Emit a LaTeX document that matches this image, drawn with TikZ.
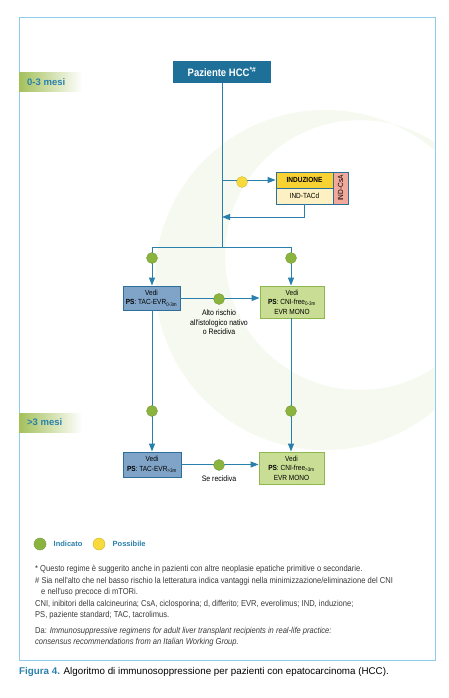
\documentclass[tikz,border=0pt]{standalone}
\usepackage{fontspec}
\setmainfont{Liberation Sans}
\newfontfamily\condfont[FakeStretch=0.88]{Liberation Sans}
\usetikzlibrary{arrows.meta, positioning, calc}
\definecolor{frameblue}{HTML}{8DCDEB}
\definecolor{linkblue}{HTML}{2A80AC}
\definecolor{hccblue}{HTML}{1E7099}
\definecolor{tacfill}{HTML}{80A4C7}
\definecolor{tacdraw}{HTML}{2C6F9B}
\definecolor{cnifill}{HTML}{C9DE94}
\definecolor{cnidraw}{HTML}{8DB94C}
\definecolor{dotgreen}{HTML}{8AB43E}
\definecolor{dotyellow}{HTML}{F8DA3C}
\definecolor{indfill}{HTML}{F8D232}
\definecolor{tacdfill}{HTML}{FDF0C2}
\definecolor{csafill}{HTML}{F0A99A}
\definecolor{bandgreen}{HTML}{A3C05A}
\definecolor{notegray}{HTML}{3A3A3A}
\definecolor{swoosh}{HTML}{F6F9EF}
\newcommand{\boxfont}{\condfont\fontsize{7.4}{9.5}\selectfont}
\tikzset{
  link/.style={draw=linkblue, line width=1pt},
  arrowlink/.style={link, -{Triangle[length=8pt,width=6pt]}},
  hccbox/.style={fill=hccblue, text=white, inner sep=0pt,
    minimum width=98pt, minimum height=22pt,
    font=\condfont\fontsize{10.8}{12}\selectfont\bfseries},
  tacbox/.style={draw=tacdraw, line width=0.9pt, fill=tacfill, align=center,
    inner sep=0pt, font=\boxfont},
  cnibox/.style={draw=cnidraw, line width=0.9pt, fill=cnifill, align=center,
    inner sep=0pt, font=\boxfont},
  indbox/.style={draw=tacdraw, line width=0.8pt, inner sep=0pt, font=\boxfont},
  okdot/.style={circle, fill=dotgreen, draw=dotgreen!80!black, line width=0.3pt,
    minimum size=11pt, inner sep=0pt},
  maydot/.style={circle, fill=dotyellow, draw=dotyellow!80!black, line width=0.3pt,
    minimum size=11pt, inner sep=0pt},
  bandlabel/.style={anchor=west, inner sep=0pt, text=linkblue,
    font=\fontsize{9.5}{10}\selectfont\bfseries},
  note/.style={anchor=north west, align=left, text=notegray,
    font=\condfont\fontsize{8.6}{11.5}\selectfont, inner sep=0pt}
}
\begin{document}
\begin{tikzpicture}[x=1pt, y=-1pt]
\def\xl{152}\def\xr{291}\def\xm{219}
\useasboundingbox (0,0) rectangle (448,698);
\fill[white] (0,0) rectangle (448,698);
% faint background swoosh
\begin{scope}
  \clip (19,18) rectangle (435,660);
  \fill[swoosh, even odd rule] (325,280) circle (170pt) (360,255) circle (135pt);
\end{scope}
\draw[frameblue, line width=1pt] (19,18) rectangle (435,660);
% period bands
\shade[left color=bandgreen, right color=white] (19,73) rectangle (82,92);
\node[bandlabel] (early) at (27,82.5) {0-3 mesi};
\shade[left color=bandgreen, right color=white] (19,413) rectangle (82,432);
\node[bandlabel] (late) at (27,422.5) {>3 mesi};
% boxes
\node[hccbox] (hcc) at (222,72) {Paziente HCC\textsuperscript{*\#}};
\node[indbox, fill=indfill, minimum width=57pt, minimum height=16pt] (ind) at (304.5,180)
  {\bfseries INDUZIONE};
\node[indbox, fill=tacdfill, minimum width=57pt, minimum height=16pt] (tacd) at (304.5,196)
  {IND-TACd};
\node[indbox, fill=csafill, minimum width=15pt, minimum height=32pt] (csa) at (340.5,188)
  {\rotatebox{90}{IND-CsA}};
\node[tacbox, minimum width=57pt, minimum height=24pt] (tac1) at (151.5,298)
  {Vedi\\\textbf{PS}: TAC-EVR\textsubscript{0-3m}};
\node[cnibox, minimum width=64pt, minimum height=32pt] (cni1) at (292,302)
  {Vedi\\\textbf{PS}: CNI-free\textsubscript{0-3m}\\EVR MONO};
\node[tacbox, minimum width=58pt, minimum height=25pt] (tac2) at (152,464.5)
  {Vedi\\\textbf{PS}: TAC-EVR\textsubscript{>3m}};
\node[cnibox, minimum width=65pt, minimum height=32pt] (cni2) at (291.5,468)
  {Vedi\\\textbf{PS}: CNI-free\textsubscript{>3m}\\EVR MONO};
% connectors
\coordinate (splitl) at (\xl,247);
\coordinate (splitr) at (\xr,247);
\coordinate (back) at (222,217);
\draw[link] (hcc.south) -- (hcc.south |- splitl);
\draw[link] (splitl) -- (splitr);
\draw[arrowlink] (hcc.south |- ind.west) -- (ind.west);
\draw[arrowlink] (tacd.south) |- (back);
\draw[arrowlink] (splitl) -- (splitl |- tac1.north);
\draw[arrowlink] (splitr) -- (splitr |- cni1.north);
\draw[arrowlink] (tac1.east) -- (tac1.east -| cni1.west);
\draw[arrowlink] (tac1.south -| splitl) -- (splitl |- tac2.north);
\draw[arrowlink] (cni1.south -| splitr) -- (splitr |- cni2.north);
\draw[arrowlink] (tac2.east) -- (tac2.east -| cni2.west);
% choice dots
\node[maydot] (d0) at (242,182) {};
\node[okdot] (d1) at (\xl,258) {};
\node[okdot] (d2) at (\xr,258) {};
\node[okdot] (d3) at (\xm,299) {};
\node[okdot] (d4) at (\xl,411) {};
\node[okdot] (d5) at (\xr,411) {};
\node[okdot] (d6) at (\xm,465) {};
\node[below=2pt of d3, align=center, font=\condfont\fontsize{7.9}{9.5}\selectfont] (risk)
  {Alto rischio\\all'istologico nativo\\o Recidiva};
\node[below=2pt of d6, font=\condfont\fontsize{7.9}{9.5}\selectfont] (relapse) {Se recidiva};
% legend
\node[okdot, minimum size=12pt] (kok) at (40,544) {};
\node[right=4pt of kok, text=linkblue, font=\fontsize{7.5}{9}\selectfont\bfseries] (tok) {Indicato};
\node[maydot, minimum size=12pt] (kmay) at (99,544) {};
\node[right=4pt of kmay, text=linkblue, font=\fontsize{7.5}{9}\selectfont\bfseries] (tmay) {Possibile};
% notes
\node[note] (notes) at (35,565)
  {* Questo regime è suggerito anche in pazienti con altre neoplasie epatiche primitive o secondarie.\\
   \# Sia nell'alto che nel basso rischio la letteratura indica vantaggi nella minimizzazione/eliminazione del CNI\\
   \hspace*{6pt}e nell'uso precoce di mTORi.\\
   CNI, inibitori della calcineurina; CsA, ciclosporina; d, differito; EVR, everolimus; IND, induzione;\\
   PS, paziente standard; TAC, tacrolimus.};
\node[note, font=\condfont\fontsize{8.6}{11}\selectfont] (source) at (35,627)
  {Da: \textit{Immunosuppressive regimens for adult liver transplant recipients in real-life practice:}\\
   \textit{consensus recommendations from an Italian Working Group.}};
% caption
\node[anchor=west, inner sep=0pt, font=\fontsize{9.8}{11}\selectfont] (caption) at (19,672)
  {\textcolor{linkblue}{\bfseries Figura 4.} Algoritmo di immunosoppressione per pazienti con epatocarcinoma (HCC).};
\end{tikzpicture}
\end{document}
